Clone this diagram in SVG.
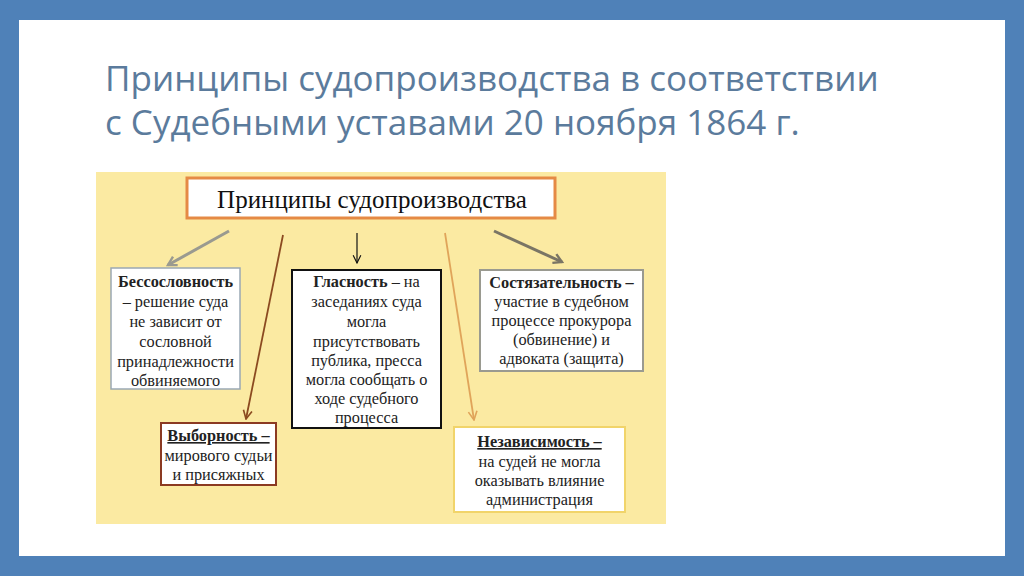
<svg xmlns="http://www.w3.org/2000/svg" width="1024" height="576" viewBox="0 0 1024 576">
<style>
.t{font-family:"Open Sans","Noto Sans",sans-serif;font-size:35px;fill:#5b7b9c}
.b{font-family:"Liberation Serif","DejaVu Serif",serif;font-size:16.3px;fill:#222;text-anchor:middle}
.bb{font-weight:bold}
.u{text-decoration:underline}
</style>
<defs>
<marker id="mg" viewBox="0 0 10 10" refX="8" refY="5" markerWidth="4" markerHeight="4" orient="auto" markerUnits="strokeWidth"><path d="M1,1 L8,5 L1,9" fill="none" stroke="#9a9a90" stroke-width="2"/></marker>
<marker id="mg2" viewBox="0 0 10 10" refX="8" refY="5" markerWidth="4" markerHeight="4" orient="auto" markerUnits="strokeWidth"><path d="M1,1 L8,5 L1,9" fill="none" stroke="#7a7565" stroke-width="2"/></marker>
<marker id="mk" viewBox="0 0 10 10" refX="9" refY="5" markerWidth="8" markerHeight="8" orient="auto" markerUnits="strokeWidth"><path d="M1,1 L9,5 L1,9" fill="none" stroke="#111" stroke-width="1.2"/></marker>
<marker id="mb" viewBox="0 0 10 10" refX="9" refY="5" markerWidth="6" markerHeight="6" orient="auto" markerUnits="strokeWidth"><path d="M1,1 L9,5 L1,9" fill="none" stroke="#8b4a20" stroke-width="1.5"/></marker>
<marker id="mo" viewBox="0 0 10 10" refX="9" refY="5" markerWidth="6" markerHeight="6" orient="auto" markerUnits="strokeWidth"><path d="M1,1 L9,5 L1,9" fill="none" stroke="#e0a45a" stroke-width="1.5"/></marker>
</defs>
<rect width="1024" height="576" fill="#4f81b8"/>
<rect x="19" y="20" width="986" height="536" fill="#ffffff"/>
<text class="t" x="105" y="91">Принципы судопроизводства в соответствии</text>
<text class="t" x="105" y="135">с Судебными уставами 20 ноября 1864 г.</text>
<rect x="96" y="172" width="570" height="352" fill="#fbeaa2"/>
<g id="header">
<rect x="187" y="178" width="368" height="40" fill="#fff" stroke="#e58a45" stroke-width="3"/>
<text x="372" y="208" font-family="Liberation Serif, DejaVu Serif, serif" font-size="25" fill="#111" text-anchor="middle">Принципы судопроизводства</text>
</g>
<g id="connectors" fill="none">
<line x1="229" y1="231" x2="168" y2="265" stroke="#9a9a90" stroke-width="3" marker-end="url(#mg)"/>
<line x1="494" y1="231" x2="562" y2="262" stroke="#7a7565" stroke-width="3" marker-end="url(#mg2)"/>
<line x1="357" y1="233" x2="357" y2="263" stroke="#111" stroke-width="1.2" marker-end="url(#mk)"/>
<line x1="283" y1="235" x2="246" y2="419" stroke="#8b4a20" stroke-width="1.8" marker-end="url(#mb)"/>
<line x1="445" y1="233" x2="474" y2="420" stroke="#e0a45a" stroke-width="1.8" marker-end="url(#mo)"/>
</g>
<g id="n1">
<rect x="111" y="268" width="129" height="121" fill="#fff" stroke="#9aa8b4" stroke-width="1.5"/>
<text class="b" x="175.5"><tspan x="175.5" y="287" class="bb">Бессословность</tspan><tspan x="175.5" y="307">– решение суда</tspan><tspan x="175.5" y="327">не зависит от</tspan><tspan x="175.5" y="347">сословной</tspan><tspan x="175.5" y="367">принадлежности</tspan><tspan x="175.5" y="386">обвиняемого</tspan></text>
</g>
<g id="n2">
<rect x="292" y="270" width="149" height="158" fill="#fff" stroke="#111" stroke-width="2"/>
<text class="b" x="366.5"><tspan x="366.5" y="287"><tspan class="bb">Гласность</tspan> – на</tspan><tspan x="366.5" y="307">заседаниях суда</tspan><tspan x="366.5" y="327">могла</tspan><tspan x="366.5" y="347">присутствовать</tspan><tspan x="366.5" y="366">публика, пресса</tspan><tspan x="366.5" y="385">могла сообщать о</tspan><tspan x="366.5" y="404">ходе судебного</tspan><tspan x="366.5" y="423">процесса</tspan></text>
</g>
<g id="n3">
<rect x="480" y="270" width="163" height="101" fill="#fff" stroke="#9a9a90" stroke-width="2"/>
<text class="b" x="561.5"><tspan x="561.5" y="288" class="bb">Состязательность –</tspan><tspan x="561.5" y="307">участие в судебном</tspan><tspan x="561.5" y="326">процессе прокурора</tspan><tspan x="561.5" y="345">(обвинение) и</tspan><tspan x="561.5" y="364">адвоката (защита)</tspan></text>
</g>
<g id="n4">
<rect x="161" y="423" width="115" height="62" fill="#fff" stroke="#8b3a22" stroke-width="2"/>
<text class="b" x="218.5"><tspan x="218.5" y="441" class="bb u">Выборность –</tspan><tspan x="218.5" y="461">мирового судьи</tspan><tspan x="218.5" y="480">и присяжных</tspan></text>
</g>
<g id="n5">
<rect x="454" y="427" width="171" height="85" fill="#fff" stroke="#f1d46a" stroke-width="2"/>
<text class="b" x="539.5"><tspan x="539.5" y="447" class="bb u">Независимость –</tspan><tspan x="539.5" y="467">на судей не могла</tspan><tspan x="539.5" y="486">оказывать влияние</tspan><tspan x="539.5" y="505">администрация</tspan></text>
</g>
</svg>
